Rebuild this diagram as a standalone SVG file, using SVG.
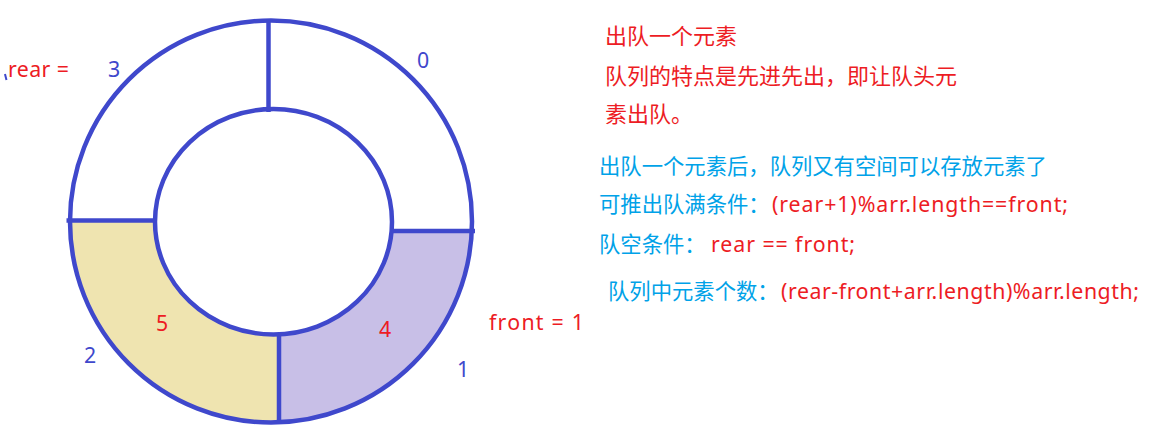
<svg xmlns="http://www.w3.org/2000/svg" width="1153" height="440" viewBox="0 0 1153 440">
<style>
.ring{fill:none;stroke:#3F48CC;stroke-width:4.5}
.t{font-family:"Noto Sans","Noto Sans CJK SC",sans-serif;font-size:21.33px}
.red{fill:#ED1C24}
.blue{fill:#3F48CC}
.cyan{fill:#00A2E8}
.big{font-size:22px}
</style>
<rect width="1153" height="440" fill="#ffffff"/>
<g id="ring">
  <path id="seg-yellow" d="M 70 220.5 A 201 201 0 0 0 279 422.3 L 279 334.5 A 118.5 112.75 0 0 1 155 220.5 Z" fill="#EFE4B0"/>
  <path id="seg-purple" d="M 279 422.3 A 201 201 0 0 0 471.7 231 L 392 231 A 118.5 112.75 0 0 1 279 334.5 Z" fill="#C8BFE7"/>
  <circle class="ring" cx="271" cy="221.5" r="201"/>
  <ellipse class="ring" cx="273.5" cy="221.75" rx="118.5" ry="112.75"/>
</g>
<g id="connectors">
  <line class="ring" x1="268.5" y1="19" x2="268.5" y2="112"/>
  <line class="ring" x1="66.5" y1="220.5" x2="156" y2="220.5"/>
  <line class="ring" x1="391.5" y1="231" x2="475" y2="231"/>
  <line class="ring" x1="279" y1="333" x2="279" y2="424"/>
  <path d="M 5 74 L 6.5 80" stroke="#3F48CC" stroke-width="2" fill="none"/>
</g>
<g id="labels">
  <text class="t red" x="8" y="77" textLength="61">rear =</text>
  <text class="t blue" x="108" y="77">3</text>
  <text class="t blue" x="417" y="68">0</text>
  <text class="t blue" x="84" y="363">2</text>
  <text class="t red" x="156" y="331">5</text>
  <text class="t red" x="379" y="337">4</text>
  <text class="t blue" x="457" y="377">1</text>
  <text class="t red" x="489" y="330" textLength="95">front = 1</text>
</g>
<g id="notes-red">
  <text class="t big red" x="605" y="43.5">出队一个元素</text>
  <text class="t big red" x="605" y="83.5">队列的特点是先进先出，即让队头元</text>
  <text class="t big red" x="605" y="121.5">素出队。</text>
</g>
<g id="notes-cyan">
  <text class="t cyan" x="599" y="173.5">出队一个元素后，队列又有空间可以存放元素了</text>
  <text class="t cyan" x="599" y="211.5">可推出队满条件：</text>
  <text class="t red" x="772" y="212" textLength="296">(rear+1)%arr.length==front;</text>
  <text class="t cyan" x="599" y="251.5">队空条件：</text>
  <text class="t red" x="711" y="252" textLength="144">rear == front;</text>
  <text class="t cyan" x="608" y="298.5">队列中元素个数：</text>
  <text class="t red" x="781" y="298.5" textLength="358">(rear-front+arr.length)%arr.length;</text>
</g>
</svg>
